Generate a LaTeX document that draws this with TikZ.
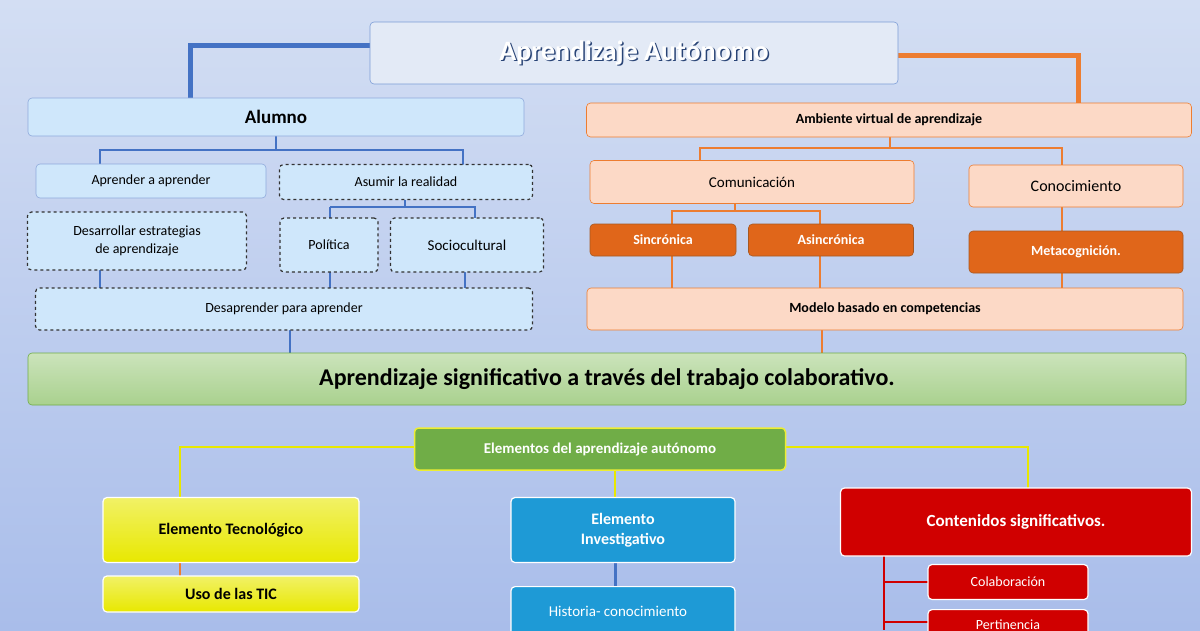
\documentclass[tikz,border=0pt]{standalone}
\usepackage{fontspec}
\setmainfont{Carlito}
\usetikzlibrary{shadows}
\definecolor{bgA}{HTML}{D3DEF3}
\definecolor{bgB}{HTML}{A9BDEA}
\definecolor{bl}{HTML}{4472C4}
\definecolor{lb}{HTML}{CFE7FB}
\definecolor{or}{HTML}{ED7D31}
\definecolor{sal}{HTML}{FCD9C6}
\definecolor{dor}{HTML}{E0661A}
\definecolor{gr}{HTML}{A9D18E}
\definecolor{ggr}{HTML}{70AD47}
\definecolor{yl}{HTML}{E8E800}
\definecolor{cy}{HTML}{1E9AD6}
\definecolor{rd}{HTML}{D00000}
\begin{document}
\begin{tikzpicture}[x=1pt,y=-1pt,
 box/.style={draw=black!55,rounded corners=4pt,line width=0.6pt,font=\bfseries},
 lbox/.style={box,fill=lb,draw=bl!60},
 dbox/.style={box,fill=lb,draw=black!80,dashed,line width=1.2pt},
 sbox/.style={box,fill=sal,draw=or},
 obox/.style={box,fill=dor,draw=or!70!black,text=white},
 bline/.style={draw=bl,line width=2pt},
 oline/.style={draw=or,line width=2pt},
 yline/.style={draw=yl,line width=1.5pt},
 rline/.style={draw=rd,line width=2pt}]
\useasboundingbox (0,0) rectangle (1200,630);
\clip (0,0) rectangle (1200,630);
\shade[top color=bgA,bottom color=bgB] (0,0) rectangle (1200,630);
% top connectors
\draw[bl,line width=5pt] (370,45) -- (190,45) -- (190,100);
\draw[or,line width=5pt] (898,55) -- (1078,55) -- (1078,105);
\node[box,draw=bl!70,fill=white!85!bl,minimum width=528pt,minimum height=62pt,font=\bfseries\fontsize{28}{30}\selectfont,text=white] (title) at (634,53) {};
\node[font=\bfseries\fontsize{28}{30}\selectfont,text=bl!60!black] at (635.5,54.5) {Aprendizaje Autónomo};
\node[font=\bfseries\fontsize{28}{30}\selectfont,text=white] (tt) at (634,53) {Aprendizaje Autónomo};
% left tree
\draw[bline] (100,170) |- (463,150) -- (463,170);
\draw[bline] (276,136) -- (276,150);
\draw[bline] (100,270) -- (100,292);
\draw[bline] (330,207) -- (330,290); \draw[bline] (330,207) -- (475,207) -- (475,220);
\draw[bline] (405,200) -- (405,207);
\draw[bline] (465,272) -- (465,290);
\draw[bline] (290,330) -- (290,356);
\node[lbox,minimum width=496pt,minimum height=38pt,font=\bfseries\fontsize{19}{21}\selectfont] (al) at (276,117) {Alumno};
\node[lbox,minimum width=230pt,minimum height=34pt,font=\fontsize{14}{16}\selectfont] (aa) at (151,181) {Aprender a aprender};
\node[dbox,minimum width=253pt,minimum height=35pt,font=\fontsize{14}{16}\selectfont] (ar) at (406,182) {Asumir la realidad};
\node[dbox,minimum width=219pt,minimum height=58pt,align=center,font=\fontsize{14}{18}\selectfont] (de) at (137,241) {Desarrollar estrategias\\de aprendizaje};
\node[dbox,minimum width=98pt,minimum height=54pt,font=\fontsize{14}{16}\selectfont] (po) at (329,245) {Política};
\node[dbox,minimum width=153pt,minimum height=54pt,font=\fontsize{15}{16}\selectfont] (so) at (467,245) {Sociocultural};
\node[dbox,minimum width=497pt,minimum height=42pt,font=\fontsize{14}{16}\selectfont] (dp) at (284,309) {Desaprender para aprender};
% right tree
\draw[oline] (700,163) |- (1062,148) -- (1062,167);
\draw[oline] (890,137) -- (890,148);
\draw[oline] (735,204) -- (735,211);
\draw[oline] (672,230) |- (820,211) -- (820,230);
\draw[oline] (672,256) -- (672,295);
\draw[oline] (820,256) -- (820,290);
\draw[oline] (1062,207) -- (1062,233);
\draw[oline] (1062,273) -- (1062,290);
\draw[oline] (822,330) -- (822,356);
\node[sbox,minimum width=605pt,minimum height=34pt,font=\bfseries\fontsize{14}{16}\selectfont] (av) at (889,120) {Ambiente virtual de aprendizaje};
\node[sbox,minimum width=324pt,minimum height=43pt,font=\fontsize{15}{16}\selectfont] (co) at (752,182) {Comunicación};
\node[sbox,minimum width=214pt,minimum height=42pt,font=\fontsize{16}{18}\selectfont] (cn) at (1076,186) {Conocimiento};
\node[obox,minimum width=146pt,minimum height=32pt,font=\bfseries\fontsize{14}{16}\selectfont] (si) at (663,240) {Sincrónica};
\node[obox,minimum width=165pt,minimum height=32pt,font=\bfseries\fontsize{14}{16}\selectfont] (as) at (831,240) {Asincrónica};
\node[obox,minimum width=214pt,minimum height=42pt,font=\bfseries\fontsize{14}{16}\selectfont] (me) at (1076,252) {Metacognición.};
\node[sbox,minimum width=596pt,minimum height=42pt,font=\bfseries\fontsize{14}{16}\selectfont] (mo) at (885,309) {Modelo basado en competencias};
% green
\node[box,draw=ggr,top color=gr!60,bottom color=gr,minimum width=1158pt,minimum height=52pt,font=\bfseries\fontsize{24}{26}\selectfont] (gs) at (607,379) {Aprendizaje significativo a través del trabajo colaborativo.};
% bottom
\draw[yline] (180,497) |- (1028,447) -- (1028,490);
\draw[yline] (615,470) -- (615,497);
\draw[or,line width=2pt] (180,562) -- (180,576);
\draw[bl,line width=3pt] (615,562) -- (615,588);
\draw[rline] (884,556) -- (884,630);
\draw[rline] (884,582) -- (928,582);
\draw[rline] (884,622) -- (928,622);
\node[box,draw=yl!80!white,line width=1.5pt,fill=ggr,text=white,minimum width=371pt,minimum height=42pt,font=\bfseries\fontsize{15}{16}\selectfont] (el) at (600,449) {Elementos del aprendizaje autónomo};
\node[box,draw=white,line width=1.2pt,top color=yl!60,bottom color=yl,minimum width=256pt,minimum height=65pt,font=\bfseries\fontsize{16}{18}\selectfont] (et) at (231,530) {Elemento Tecnológico};
\node[box,draw=white,line width=1.2pt,top color=yl!60,bottom color=yl,minimum width=256pt,minimum height=36pt,font=\bfseries\fontsize{16}{18}\selectfont] (ut) at (231,594) {Uso de las TIC};
\node[box,draw=white,line width=1.2pt,fill=cy,text=white,minimum width=224pt,minimum height=65pt,align=center,font=\bfseries\fontsize{16}{20}\selectfont] (ei) at (623,530) {Elemento\\Investigativo};
\node[box,draw=white,line width=1.2pt,fill=cy,text=white,minimum width=224pt,minimum height=60pt,anchor=north,font=\fontsize{15}{16}\selectfont] (hc) at (623,586) {};
\node[text=white,font=\fontsize{15}{16}\selectfont] at (618,611) {Historia- conocimiento};
\node[box,draw=white,line width=1.2pt,fill=rd,text=white,minimum width=351pt,minimum height=68pt,font=\bfseries\fontsize{17}{18}\selectfont] (cs) at (1016,522) {Contenidos significativos.};
\node[box,draw=white,line width=1.2pt,fill=rd,text=white,minimum width=160pt,minimum height=35pt,font=\fontsize{14}{16}\selectfont] (cb) at (1008,582) {Colaboración};
\node[box,draw=white,line width=1.2pt,fill=rd,text=white,minimum width=160pt,minimum height=34pt,anchor=north,font=\fontsize{14}{16}\selectfont] (pe) at (1008,609) {};
\node[text=white,font=\fontsize{14}{16}\selectfont] at (1008,625) {Pertinencia};
\end{tikzpicture}
\end{document}
